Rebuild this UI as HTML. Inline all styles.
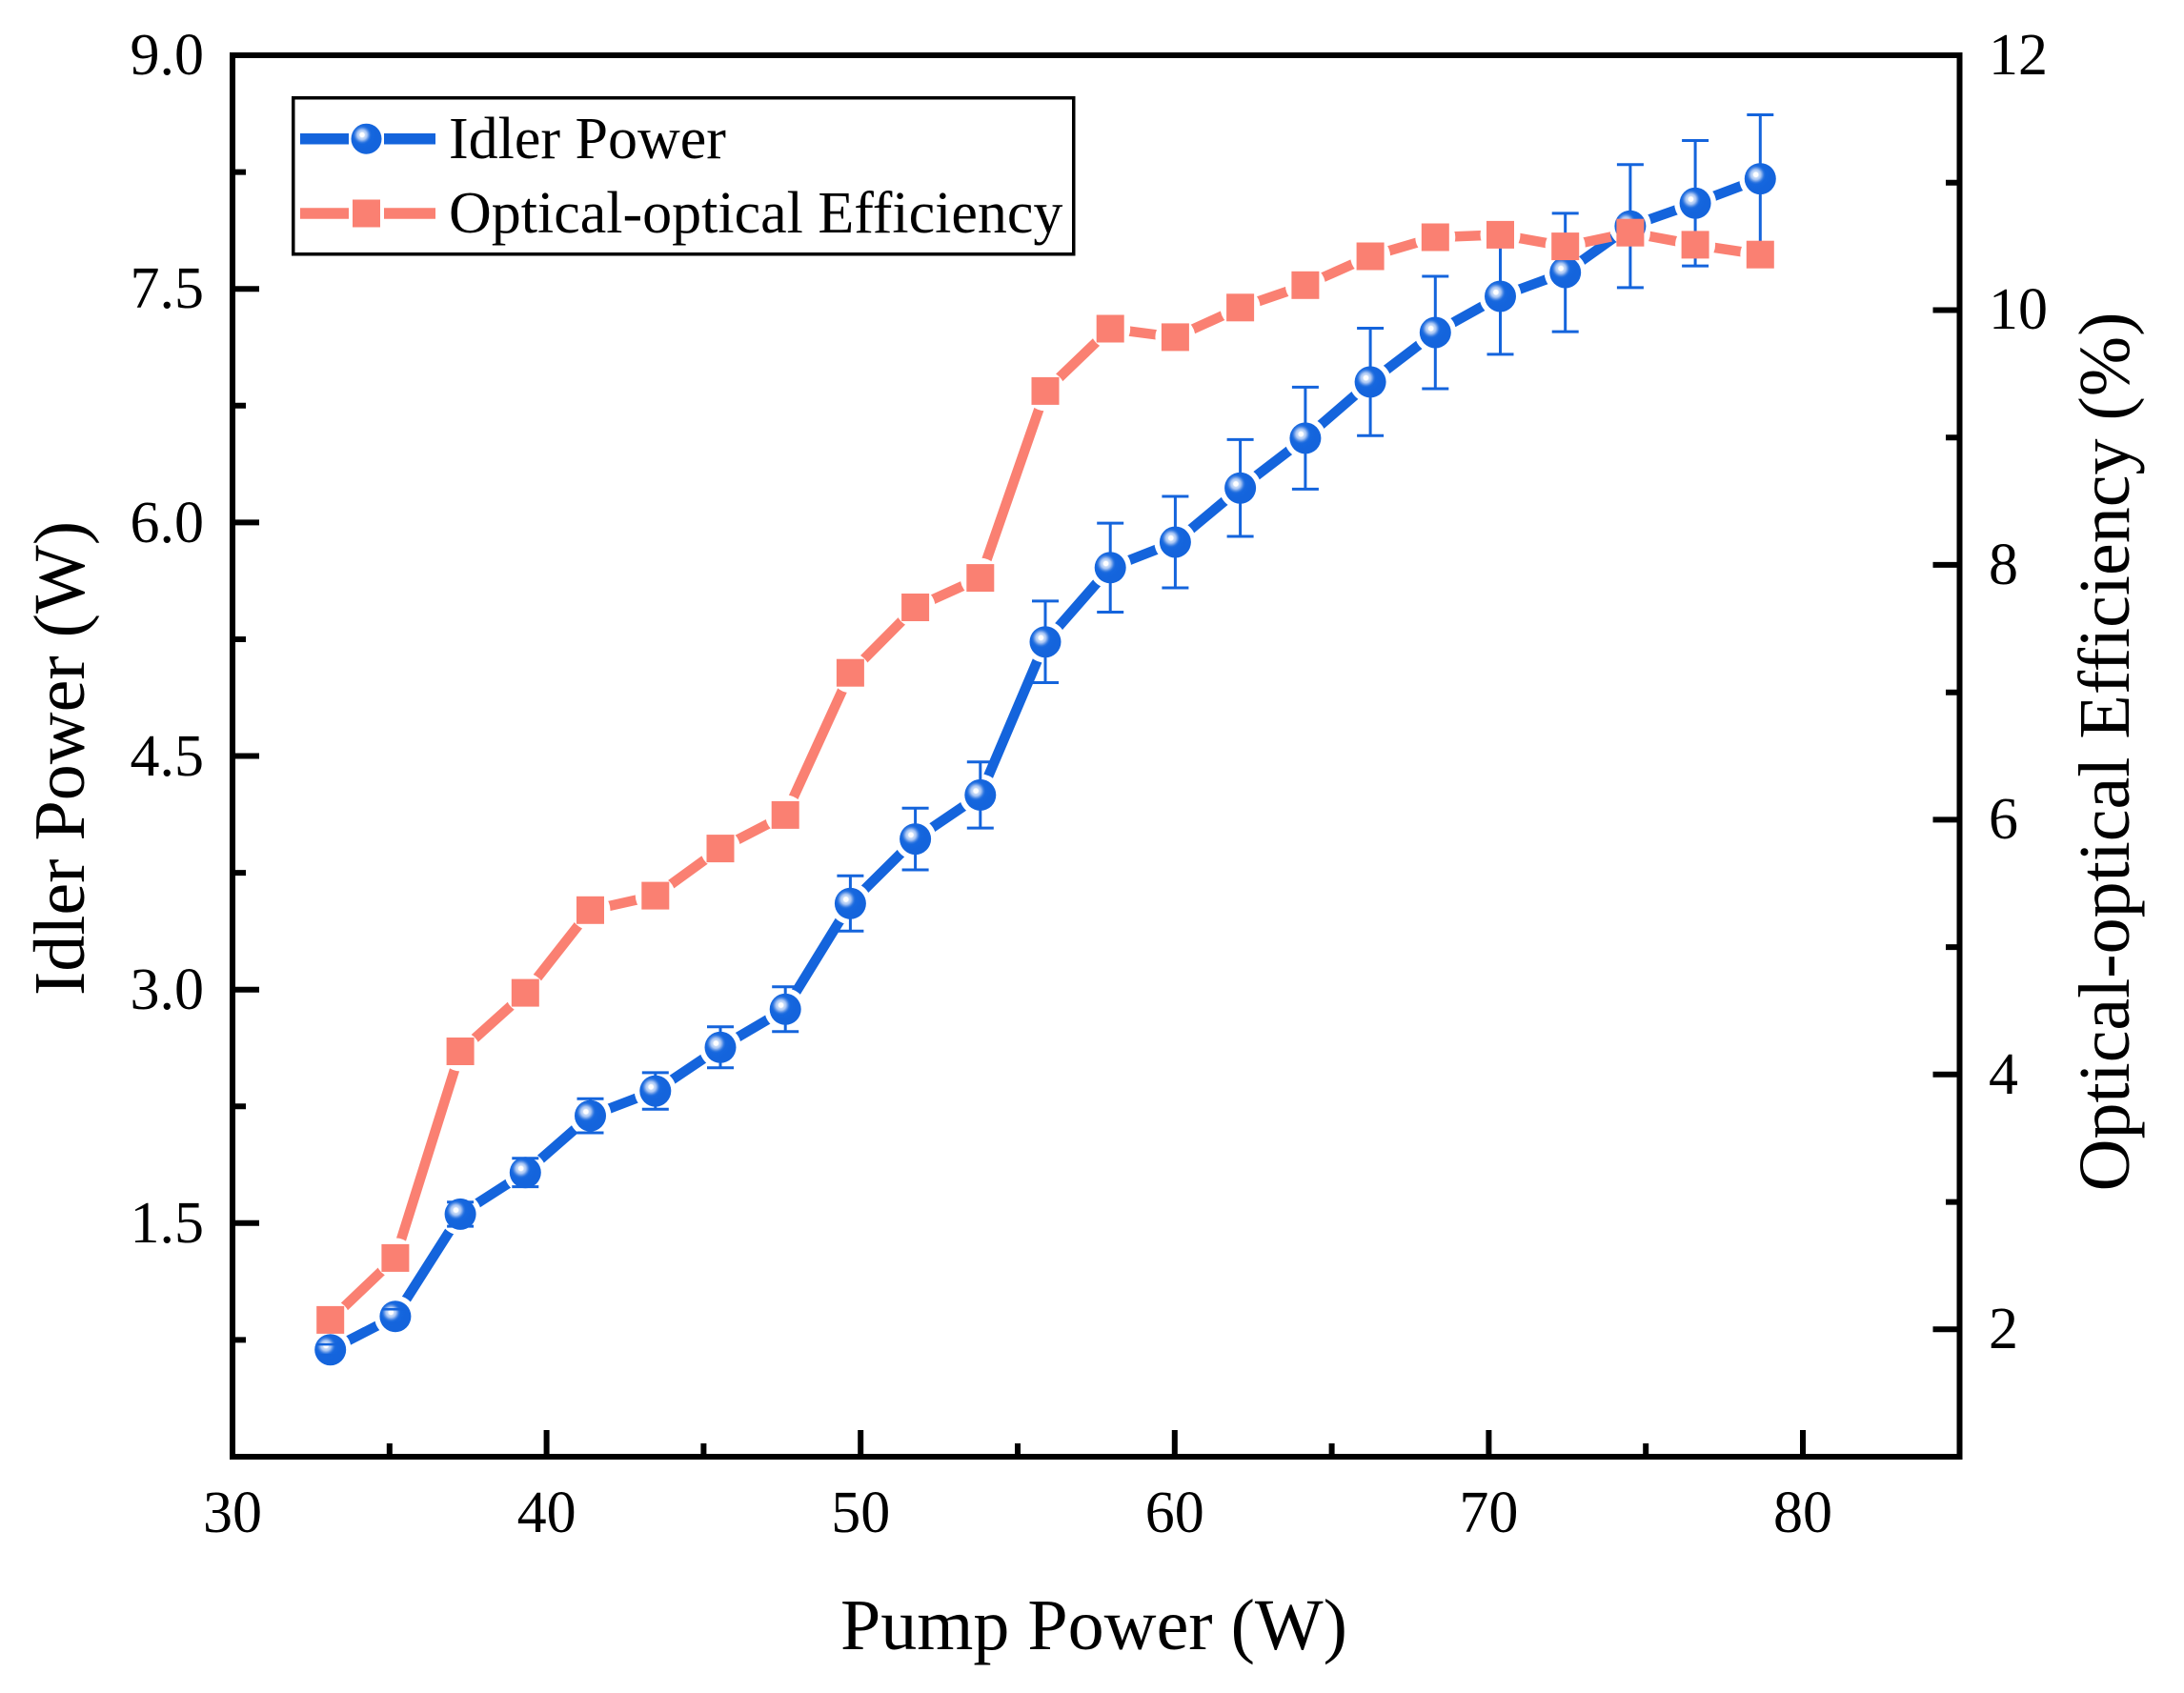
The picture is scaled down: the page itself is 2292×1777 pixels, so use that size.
<!DOCTYPE html>
<html>
<head>
<meta charset="utf-8">
<style>
  html,body{margin:0;padding:0;background:#fff;}
  svg{display:block;}
  text{font-family:"Liberation Serif","Times New Roman",serif;fill:#000;}
</style>
</head>
<body>
<svg xmlns="http://www.w3.org/2000/svg" width="2292" height="1777" viewBox="0 0 2292 1777">
  <defs>
    <radialGradient id="ball" cx="0.36" cy="0.37" fx="0.36" fy="0.37" r="0.5">
      <stop offset="0" stop-color="#ffffff"/>
      <stop offset="0.14" stop-color="#ffffff"/>
      <stop offset="0.2" stop-color="#c9dcf8"/>
      <stop offset="0.32" stop-color="#a9c6f3"/>
      <stop offset="0.4" stop-color="#74a2ea"/>
      <stop offset="0.52" stop-color="#2a74e0"/>
      <stop offset="0.62" stop-color="#1566de"/>
      <stop offset="1" stop-color="#1464dc"/>
    </radialGradient>
    <mask id="mb" maskUnits="userSpaceOnUse" x="0" y="0" width="2292" height="1777">
      <rect x="0" y="0" width="2292" height="1777" fill="#fff"/>
      <g fill="#000">
        <circle cx="346.7" cy="1416.7" r="22"/><circle cx="414.9" cy="1381.7" r="22"/><circle cx="483.1" cy="1274.4" r="22"/><circle cx="551.3" cy="1230.7" r="22"/><circle cx="619.5" cy="1171.1" r="22"/><circle cx="687.8" cy="1145.1" r="22"/><circle cx="756.0" cy="1099.3" r="22"/><circle cx="824.2" cy="1059.3" r="22"/><circle cx="892.4" cy="948.3" r="22"/><circle cx="960.6" cy="880.6" r="22"/><circle cx="1028.8" cy="834.4" r="22"/><circle cx="1097.0" cy="673.7" r="22"/><circle cx="1165.2" cy="595.8" r="22"/><circle cx="1233.4" cy="569.0" r="22"/><circle cx="1301.6" cy="512.2" r="22"/><circle cx="1369.9" cy="459.9" r="22"/><circle cx="1438.1" cy="400.9" r="22"/><circle cx="1506.3" cy="349.0" r="22"/><circle cx="1574.5" cy="311.0" r="22"/><circle cx="1642.7" cy="286.0" r="22"/><circle cx="1710.9" cy="237.3" r="22"/><circle cx="1779.1" cy="213.3" r="22"/><circle cx="1847.3" cy="187.6" r="22"/>
      </g>
    </mask>
    <mask id="ms" maskUnits="userSpaceOnUse" x="0" y="0" width="2292" height="1777">
      <rect x="0" y="0" width="2292" height="1777" fill="#fff"/>
      <g fill="#000">
        <circle cx="346.7" cy="1385.4" r="21"/><circle cx="414.9" cy="1320.4" r="21"/><circle cx="483.1" cy="1103.5" r="21"/><circle cx="551.3" cy="1042.1" r="21"/><circle cx="619.5" cy="955.3" r="21"/><circle cx="687.8" cy="940.1" r="21"/><circle cx="756.0" cy="890.6" r="21"/><circle cx="824.2" cy="855.4" r="21"/><circle cx="892.4" cy="706.2" r="21"/><circle cx="960.6" cy="637.5" r="21"/><circle cx="1028.8" cy="606.6" r="21"/><circle cx="1097.0" cy="410.4" r="21"/><circle cx="1165.2" cy="345.0" r="21"/><circle cx="1233.4" cy="353.9" r="21"/><circle cx="1301.6" cy="322.8" r="21"/><circle cx="1369.9" cy="299.3" r="21"/><circle cx="1438.1" cy="269.0" r="21"/><circle cx="1506.3" cy="249.0" r="21"/><circle cx="1574.5" cy="246.4" r="21"/><circle cx="1642.7" cy="258.6" r="21"/><circle cx="1710.9" cy="244.2" r="21"/><circle cx="1779.1" cy="256.9" r="21"/><circle cx="1847.3" cy="267.2" r="21"/>
      </g>
    </mask>
  </defs>

  <rect x="0" y="0" width="2292" height="1777" fill="#fff"/>

  <!-- Blue series line -->
  <polyline mask="url(#mb)" fill="none" stroke="#1464dc" stroke-width="10.5" stroke-linejoin="miter"
    points="346.7,1416.7 414.9,1381.7 483.1,1274.4 551.3,1230.7 619.5,1171.1 687.8,1145.1 756.0,1099.3 824.2,1059.3 892.4,948.3 960.6,880.6 1028.8,834.4 1097.0,673.7 1165.2,595.8 1233.4,569.0 1301.6,512.2 1369.9,459.9 1438.1,400.9 1506.3,349.0 1574.5,311.0 1642.7,286.0 1710.9,237.3 1779.1,213.3 1847.3,187.6"/>

  <!-- Error bars -->
  <g stroke="#1464dc" stroke-width="3" fill="none">
    <path d="M469.1 1261.7H497.1M483.1 1261.7V1287.1M469.1 1287.1H497.1"/>
    <path d="M537.3 1215.8H565.3M551.3 1215.8V1245.6M537.3 1245.6H565.3"/>
    <path d="M605.5 1153.2H633.5M619.5 1153.2V1189.0M605.5 1189.0H633.5"/>
    <path d="M673.8 1125.9H701.8M687.8 1125.9V1164.3M673.8 1164.3H701.8"/>
    <path d="M742.0 1077.8H770.0M756.0 1077.8V1120.8M742.0 1120.8H770.0"/>
    <path d="M810.2 1035.8H838.2M824.2 1035.8V1082.8M810.2 1082.8H838.2"/>
    <path d="M878.4 919.3H906.4M892.4 919.3V977.3M878.4 977.3H906.4"/>
    <path d="M946.6 848.2H974.6M960.6 848.2V913.0M946.6 913.0H974.6"/>
    <path d="M1014.8 799.7H1042.8M1028.8 799.7V869.1M1014.8 869.1H1042.8"/>
    <path d="M1083.0 630.9H1111.0M1097.0 630.9V716.5M1083.0 716.5H1111.0"/>
    <path d="M1151.2 549.1H1179.2M1165.2 549.1V642.5M1151.2 642.5H1179.2"/>
    <path d="M1219.4 521.0H1247.4M1233.4 521.0V617.0M1219.4 617.0H1247.4"/>
    <path d="M1287.6 461.4H1315.6M1301.6 461.4V563.0M1287.6 563.0H1315.6"/>
    <path d="M1355.9 406.4H1383.9M1369.9 406.4V513.4M1355.9 513.4H1383.9"/>
    <path d="M1424.1 344.5H1452.1M1438.1 344.5V457.3M1424.1 457.3H1452.1"/>
    <path d="M1492.3 290.0H1520.3M1506.3 290.0V408.0M1492.3 408.0H1520.3"/>
    <path d="M1560.5 250.1H1588.5M1574.5 250.1V371.9M1560.5 371.9H1588.5"/>
    <path d="M1628.7 223.9H1656.7M1642.7 223.9V348.1M1628.7 348.1H1656.7"/>
    <path d="M1696.9 172.7H1724.9M1710.9 172.7V301.9M1696.9 301.9H1724.9"/>
    <path d="M1765.1 147.5H1793.1M1779.1 147.5V279.1M1765.1 279.1H1793.1"/>
    <path d="M1833.3 120.5H1861.3M1847.3 120.5V254.7M1833.3 254.7H1861.3"/>
  </g>

  <!-- Blue markers -->
  <g fill="url(#ball)">
    <circle cx="346.7" cy="1416.7" r="16.5"/><circle cx="414.9" cy="1381.7" r="16.5"/><circle cx="483.1" cy="1274.4" r="16.5"/><circle cx="551.3" cy="1230.7" r="16.5"/><circle cx="619.5" cy="1171.1" r="16.5"/><circle cx="687.8" cy="1145.1" r="16.5"/><circle cx="756.0" cy="1099.3" r="16.5"/><circle cx="824.2" cy="1059.3" r="16.5"/><circle cx="892.4" cy="948.3" r="16.5"/><circle cx="960.6" cy="880.6" r="16.5"/><circle cx="1028.8" cy="834.4" r="16.5"/><circle cx="1097.0" cy="673.7" r="16.5"/><circle cx="1165.2" cy="595.8" r="16.5"/><circle cx="1233.4" cy="569.0" r="16.5"/><circle cx="1301.6" cy="512.2" r="16.5"/><circle cx="1369.9" cy="459.9" r="16.5"/><circle cx="1438.1" cy="400.9" r="16.5"/><circle cx="1506.3" cy="349.0" r="16.5"/><circle cx="1574.5" cy="311.0" r="16.5"/><circle cx="1642.7" cy="286.0" r="16.5"/><circle cx="1710.9" cy="237.3" r="16.5"/><circle cx="1779.1" cy="213.3" r="16.5"/><circle cx="1847.3" cy="187.6" r="16.5"/>
  </g>
  <!-- small error caps drawn over first markers -->
  <g stroke="#1464dc" stroke-width="2.5" fill="none">
    <path d="M332.7 1411.1H360.7M332.7 1422.3H360.7"/>
    <path d="M400.9 1374.3H428.9M400.9 1389.1H428.9"/>
  </g>

  <!-- Salmon series line -->
  <polyline mask="url(#ms)" fill="none" stroke="#fa8072" stroke-width="10.5" stroke-linejoin="miter"
    points="346.7,1385.4 414.9,1320.4 483.1,1103.5 551.3,1042.1 619.5,955.3 687.8,940.1 756.0,890.6 824.2,855.4 892.4,706.2 960.6,637.5 1028.8,606.6 1097.0,410.4 1165.2,345.0 1233.4,353.9 1301.6,322.8 1369.9,299.3 1438.1,269.0 1506.3,249.0 1574.5,246.4 1642.7,258.6 1710.9,244.2 1779.1,256.9 1847.3,267.2"/>

  <!-- Salmon markers -->
  <g fill="#fa8072">
    <rect x="332.2" y="1370.9" width="29" height="29"/><rect x="400.4" y="1305.9" width="29" height="29"/><rect x="468.6" y="1089.0" width="29" height="29"/><rect x="536.8" y="1027.6" width="29" height="29"/><rect x="605.0" y="940.8" width="29" height="29"/><rect x="673.3" y="925.6" width="29" height="29"/><rect x="741.5" y="876.1" width="29" height="29"/><rect x="809.7" y="840.9" width="29" height="29"/><rect x="877.9" y="691.7" width="29" height="29"/><rect x="946.1" y="623.0" width="29" height="29"/><rect x="1014.3" y="592.1" width="29" height="29"/><rect x="1082.5" y="395.9" width="29" height="29"/><rect x="1150.7" y="330.5" width="29" height="29"/><rect x="1218.9" y="339.4" width="29" height="29"/><rect x="1287.1" y="308.3" width="29" height="29"/><rect x="1355.4" y="284.8" width="29" height="29"/><rect x="1423.6" y="254.5" width="29" height="29"/><rect x="1491.8" y="234.5" width="29" height="29"/><rect x="1560.0" y="231.9" width="29" height="29"/><rect x="1628.2" y="244.1" width="29" height="29"/><rect x="1696.4" y="229.7" width="29" height="29"/><rect x="1764.6" y="242.4" width="29" height="29"/><rect x="1832.8" y="252.7" width="29" height="29"/>
  </g>

  <!-- Axes frame -->
  <rect x="244" y="58" width="1812.5" height="1471" fill="none" stroke="#000" stroke-width="6" stroke-linejoin="miter"/>

  <!-- Ticks -->
  <g stroke="#000" stroke-width="6" fill="none">
    <!-- bottom major -->
    <path d="M573.6 1529V1501M903.2 1529V1501M1232.8 1529V1501M1562.4 1529V1501M1892 1529V1501"/>
    <!-- bottom minor -->
    <path d="M408.8 1529V1515M738.4 1529V1515M1068 1529V1515M1397.6 1529V1515M1727.2 1529V1515"/>
    <!-- left major -->
    <path d="M244 1283.8H272M244 1038.7H272M244 793.5H272M244 548.4H272M244 303.2H272"/>
    <!-- left minor -->
    <path d="M244 1406.4H258M244 1161.3H258M244 916.1H258M244 671.0H258M244 425.8H258M244 180.6H258"/>
    <!-- right major -->
    <path d="M2056.5 325.5H2028.5M2056.5 592.9H2028.5M2056.5 860.4H2028.5M2056.5 1127.8H2028.5M2056.5 1395.3H2028.5"/>
    <!-- right minor -->
    <path d="M2056.5 191.7H2042M2056.5 459.2H2042M2056.5 726.7H2042M2056.5 994.1H2042M2056.5 1261.6H2042"/>
  </g>

  <!-- Bottom tick labels -->
  <g font-size="62" text-anchor="middle">
    <text x="244" y="1608">30</text>
    <text x="573.6" y="1608">40</text>
    <text x="903.2" y="1608">50</text>
    <text x="1232.8" y="1608">60</text>
    <text x="1562.4" y="1608">70</text>
    <text x="1892" y="1608">80</text>
  </g>

  <!-- Left tick labels -->
  <g font-size="62" text-anchor="end">
    <text x="214" y="1304">1.5</text>
    <text x="214" y="1059">3.0</text>
    <text x="214" y="814">4.5</text>
    <text x="214" y="569">6.0</text>
    <text x="214" y="323">7.5</text>
    <text x="214" y="78">9.0</text>
  </g>

  <!-- Right tick labels -->
  <g font-size="62" text-anchor="start">
    <text x="2087" y="1415">2</text>
    <text x="2087" y="1148">4</text>
    <text x="2087" y="880">6</text>
    <text x="2087" y="613">8</text>
    <text x="2087" y="345">10</text>
    <text x="2087" y="78">12</text>
  </g>

  <!-- Axis titles -->
  <text x="1148" y="1731" font-size="76" text-anchor="middle">Pump Power (W)</text>
  <text transform="translate(88,796) rotate(-90)" font-size="76" text-anchor="middle">Idler Power (W)</text>
  <text transform="translate(2234,789) rotate(-90)" font-size="76" text-anchor="middle">Optical-optical Efficiency (%)</text>

  <!-- Legend -->
  <rect x="307.75" y="102.75" width="819" height="164" fill="#fff" stroke="#000" stroke-width="3.5"/>
  <g stroke="#1464dc" stroke-width="11.5">
    <path d="M315 145.7H366M403 145.7H457"/>
  </g>
  <circle cx="384.5" cy="145.7" r="16" fill="url(#ball)"/>
  <text x="471" y="166" font-size="62">Idler Power</text>
  <g stroke="#fa8072" stroke-width="11.5">
    <path d="M315 224H366M403 224H457"/>
  </g>
  <rect x="370" y="209.5" width="29" height="29" fill="#fa8072"/>
  <text x="471" y="244" font-size="62">Optical-optical Efficiency</text>
</svg>
</body>
</html>
